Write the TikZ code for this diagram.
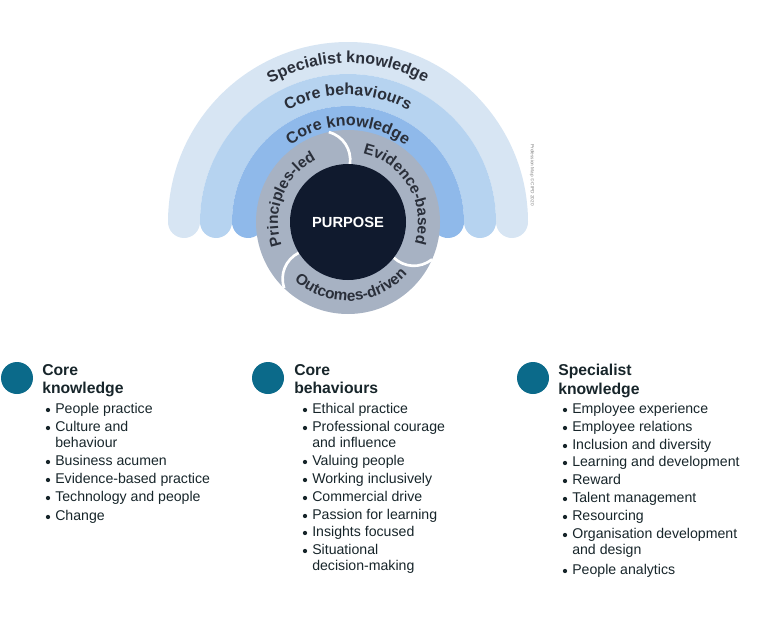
\documentclass[tikz,border=0pt]{standalone}
\usepackage{fontspec}
\setmainfont{Liberation Sans}
\usepackage{xcolor}
\usetikzlibrary{decorations.text,calc}

\definecolor{bandA}{HTML}{D7E5F3}
\definecolor{bandB}{HTML}{B6D3F0}
\definecolor{bandC}{HTML}{8FB9EA}
\definecolor{ringgrey}{HTML}{A7B2C3}
\definecolor{navy}{HTML}{101A2E}
\definecolor{teal}{HTML}{0B6A8A}
\definecolor{ink}{HTML}{17252A}
\definecolor{arcink}{HTML}{2A2F3A}

\tikzset{
  band/.style={line width=#1*0.75pt, line cap=round},
  arclabel/.style={decorate, decoration={text along path, text align=center, text color=arcink, text={#1}}},
  dot/.style={circle, fill=teal, minimum size=24pt, inner sep=0pt},
  head/.style={anchor=north west, align=left, font=\bfseries\fontsize{11.8}{14}\selectfont, text=ink, inner sep=0pt},
  item/.style={anchor=north west, align=left, font=\fontsize{10.6}{12.2}\selectfont, text=ink, inner sep=0pt},
  bull/.style={circle, fill=ink, minimum size=3.2pt, inner sep=0pt},
}

\begin{document}
\begin{tikzpicture}[x=0.75pt,y=0.75pt]
    \useasboundingbox (0,0) rectangle (768,-636);
    \coordinate (c) at (348,-222);
    % arches
    \draw[band=32,bandA] (c) ++(180:164) arc (180:0:164);
    \draw[band=32,bandB] (c) ++(180:132) arc (180:0:132);
    \draw[band=32,bandC] (c) ++(180:100) arc (180:0:100);
    \path[arclabel={|\bfseries\fontsize{12}{14}\selectfont|Specialist knowledge}] (c) ++(180:159) arc (180:0:159);
    \path[arclabel={|\bfseries\fontsize{12}{14}\selectfont|Core behaviours}] (c) ++(180:127) arc (180:0:127);
    \path[arclabel={|\bfseries\fontsize{12}{14}\selectfont|Core knowledge}] (c) ++(180:96) arc (180:0:96);
    % ring
    \fill[ringgrey] (c) circle (92);
    \foreach \a in {88,-38,212}
        \draw[white,line width=2pt] ($(c)+(\a:58)$) coordinate (s\a) to[bend right=40] ($(c)+(\a+14:92)$);
    \path[arclabel={|\bfseries\fontsize{11.5}{13}\selectfont|Principles-led}] (c) ++(222:70) arc (222:94:70);
    \path[arclabel={|\bfseries\fontsize{11.5}{13}\selectfont|Evidence-based}] (c) ++(86:70) arc (86:-26:70);
    \path[arclabel={|\bfseries\fontsize{11.5}{13}\selectfont|Outcomes-driven}] (c) ++(212:79) arc (212:334:79);
    \node[circle, fill=navy, minimum size=116*0.75pt, inner sep=0pt, text=white,
          font=\bfseries\fontsize{11}{12}\selectfont] (purpose) at (c) {PURPOSE};
    \node[rotate=-90, font=\fontsize{3.5}{4}\selectfont, text=gray] (credit) at (532,-175) {Profession Map \textcopyright\ CIPD 2020};
    % columns
    \node[dot] (dotA) at (17,-378) {};
    \node[head] (headA) at (42,-364) {Core\\knowledge};
    \node[dot] (dotB) at (268,-378) {};
    \node[head] (headB) at (294,-364) {Core\\behaviours};
    \node[dot] (dotC) at (533,-378) {};
    \node[head] (headC) at (558,-364) {Specialist\\knowledge};
    \foreach \y/\t [count=\i] in {403/People practice, 421/{Culture and\\behaviour}, 455/Business acumen,
        473/Evidence-based practice, 491/Technology and people, 510/Change} {
        \node[bull] (bA\i) at (48,-\y-7) {};
        \node[item] (iA\i) at (55,-\y) {\t};
    }
    \foreach \y/\t [count=\i] in {403/Ethical practice, 421/{Professional courage\\and influence}, 455/Valuing people,
        473/Working inclusively, 491/Commercial drive, 509/Passion for learning, 526/Insights focused,
        544/{Situational\\decision-making}} {
        \node[bull] (bB\i) at (305,-\y-7) {};
        \node[item] (iB\i) at (312,-\y) {\t};
    }
    \foreach \y/\t [count=\i] in {403/Employee experience, 421/Employee relations, 439/Inclusion and diversity,
        456/Learning and development, 474/Reward, 492/Talent management, 510/Resourcing,
        528/{Organisation development\\and design}, 564/People analytics} {
        \node[bull] (bC\i) at (565,-\y-7) {};
        \node[item] (iC\i) at (572,-\y) {\t};
    }
\end{tikzpicture}
\end{document}
